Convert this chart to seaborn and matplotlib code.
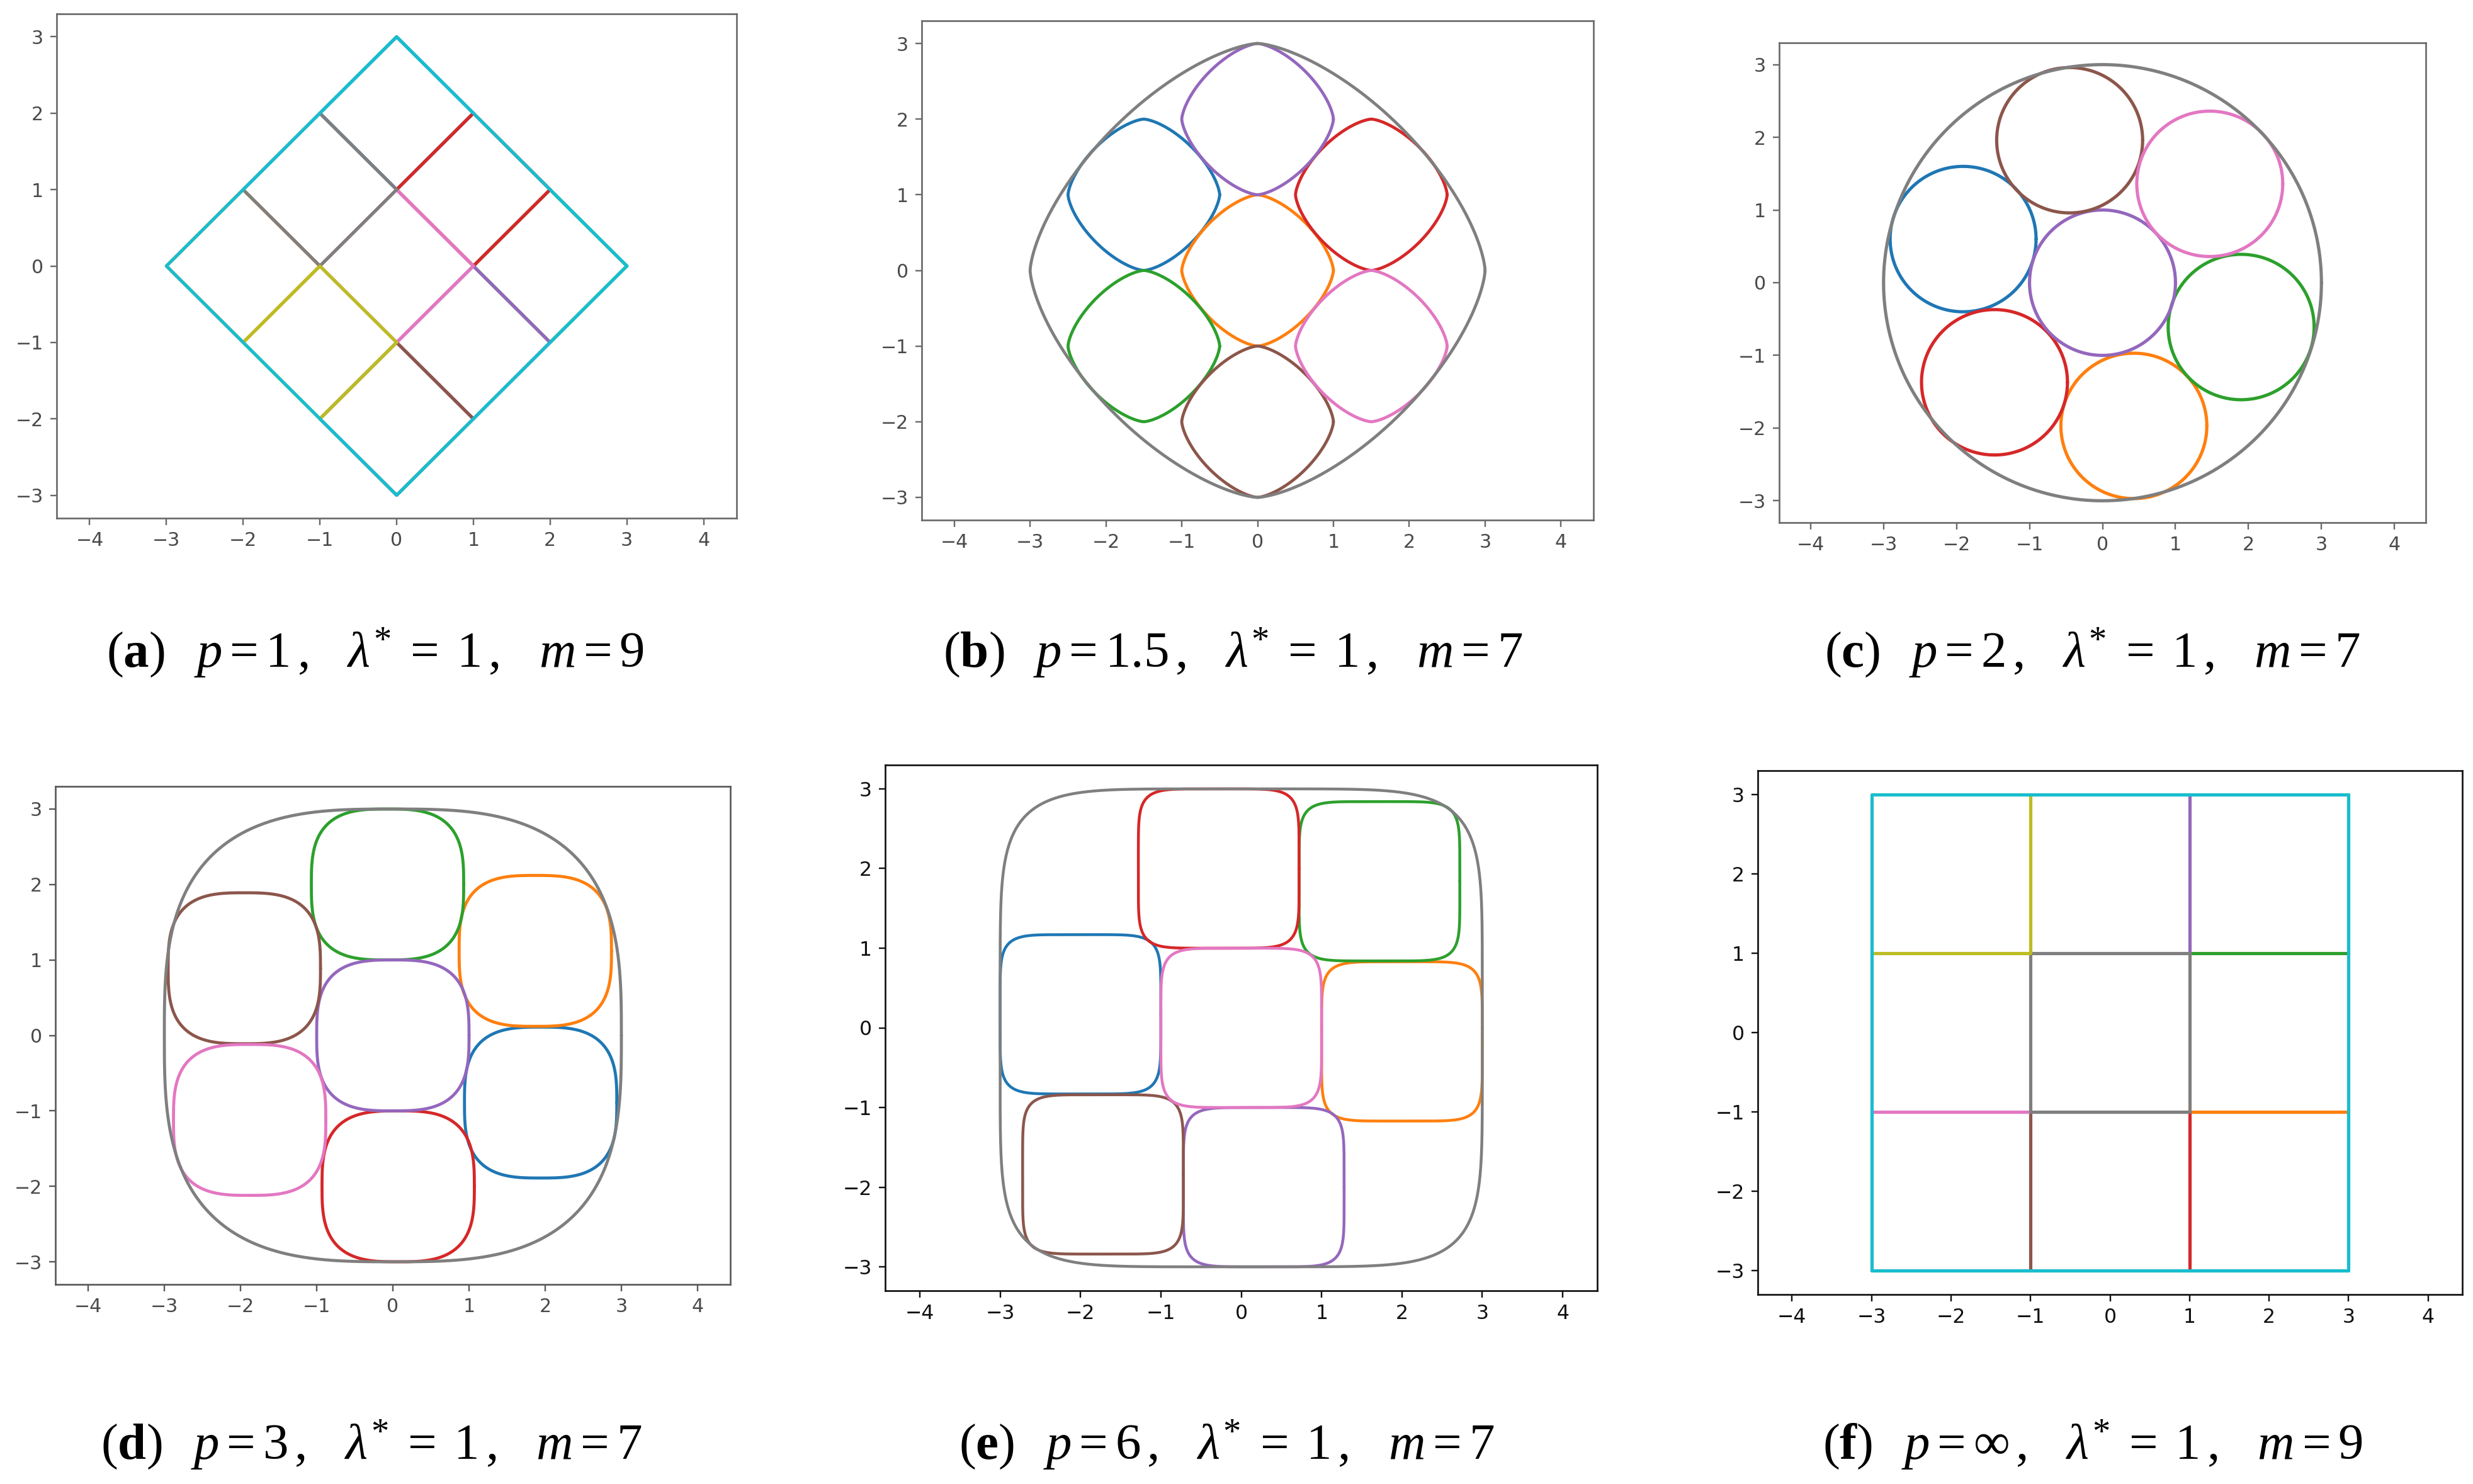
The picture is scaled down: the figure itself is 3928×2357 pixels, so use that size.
import numpy as np
import matplotlib
matplotlib.use("Agg")
import matplotlib.pyplot as plt
import seaborn as sns

# ---------------- data ----------------
panel_letters = ["a", "b", "c", "d", "e", "f"]
p_values = [1.0, 1.5, 2.0, 3.0, 6.0, np.inf]
p_texts = ["1", "1.5", "2", "3", "6", r"\infty"]
m_values = [9, 7, 7, 7, 7, 9]
lambda_star = 1
inner_radius = 1.0
outer_radius = 3.0

# centres of the small balls, in drawing (colour-cycle) order
centers_x_a = [0, -2, 2, 1, 1, 0, 0, -1, -1]
centers_y_a = [2, 0, 0, 1, -1, -2, 0, 1, -1]
centers_x_b = [-1.5, 0, -1.5, 1.5, 0, 0, 1.5]
centers_y_b = [1.0, 0, -1.0, 1.0, 2.0, -2.0, -1.0]
centers_x_c = [-1.91, 0.43, 1.90, -1.48, 0.0, -0.45, 1.47]
centers_y_c = [0.60, -1.97, -0.61, -1.37, 0.0, 1.96, 1.36]
centers_x_d = [1.94, 1.87, -0.07, 0.07, 0.0, -1.95, -1.88]
centers_y_d = [-0.89, 1.12, 2.00, -2.00, 0.0, 0.89, -1.12]
centers_x_e = [-2.00, 2.00, 1.72, -0.28, 0.28, -1.72, 0.0]
centers_y_e = [0.17, -0.17, 1.84, 2.00, -2.00, -1.84, 0.0]
centers_x_f = [2, 2, 2, 0, 0, -2, -2, 0, -2]
centers_y_f = [-2, 0, 2, -2, 2, -2, 0, 0, 2]

centers_x = [centers_x_a, centers_x_b, centers_x_c, centers_x_d, centers_x_e, centers_x_f]
centers_y = [centers_y_a, centers_y_b, centers_y_c, centers_y_d, centers_y_e, centers_y_f]

x_ticks = [-4, -3, -2, -1, 0, 1, 2, 3, 4]
y_ticks = [-3, -2, -1, 0, 1, 2, 3]

# ---------------- layout (pixels in the 3928x2357 canvas) ----------------
W, H = 3928, 2357
axes_px = [  # left, right, top, bottom
    (90, 1170, 22, 823),
    (1464, 2531, 33, 826),
    (2826, 3853, 68, 830),
    (88, 1160, 1249, 2040),
    (1406, 2537, 1215, 2050),
    (2792, 3911, 1224, 2056),
]
caption_px = [(596, 1060), (1958, 1060), (3323, 1060),
              (590, 2318), (1948, 2318), (3324, 2318)]
frame_colors = ["#6a6a6a", "#6a6a6a", "#6a6a6a", "#5a5a5a", "#111111", "#111111"]
label_colors = ["#4a4a4a", "#4a4a4a", "#4a4a4a", "#4a4a4a", "#111111", "#111111"]
tick_sizes = [10, 10, 10, 10, 10.5, 10.5]
line_widths = [1.7, 1.6, 1.7, 1.6, 1.5, 1.7]

sns.set_style("ticks")
plt.rcParams["font.family"] = ["DejaVu Sans"]
plt.rcParams["mathtext.fontset"] = "custom"
plt.rcParams["mathtext.rm"] = "Liberation Serif"
plt.rcParams["mathtext.it"] = "Liberation Serif:italic"
plt.rcParams["mathtext.bf"] = "Liberation Serif:bold"

palette = sns.color_palette("tab10", 10)

dpi = 216
fig = plt.figure(figsize=(W / dpi, H / dpi), dpi=dpi)
fig.patch.set_facecolor("white")


def lp_curve(cx, cy, r, p, n=2400):
    if np.isinf(p):
        xs = np.array([1, -1, -1, 1, 1], dtype=float)
        ys = np.array([1, 1, -1, -1, 1], dtype=float)
    else:
        t = np.linspace(0, 2 * np.pi, n)
        e = 2.0 / p
        xs = np.sign(np.cos(t)) * np.abs(np.cos(t)) ** e
        ys = np.sign(np.sin(t)) * np.abs(np.sin(t)) ** e
    return cx + r * xs, cy + r * ys


for i in range(6):
    l, r, t, b = axes_px[i]
    ax = fig.add_axes([l / W, 1 - b / H, (r - l) / W, (b - t) / H])
    p = p_values[i]
    for k in range(m_values[i]):
        xs, ys = lp_curve(centers_x[i][k], centers_y[i][k], inner_radius, p)
        sns.lineplot(x=xs, y=ys, sort=False, estimator=None, color=palette[k],
                     linewidth=line_widths[i], ax=ax)
    xs, ys = lp_curve(0.0, 0.0, outer_radius, p)
    sns.lineplot(x=xs, y=ys, sort=False, estimator=None,
                 color=palette[m_values[i] % 10], linewidth=line_widths[i], ax=ax)

    ax.set_xlim(-4.43, 4.43)
    ax.set_ylim(-3.3, 3.3)
    ax.set_xticks(x_ticks)
    ax.set_yticks(y_ticks)
    ax.set_xticklabels([f"{v:d}".replace("-", "\u2212") for v in x_ticks])
    ax.set_yticklabels([f"{v:d}".replace("-", "\u2212") for v in y_ticks])
    ax.set_xlabel("")
    ax.set_ylabel("")
    for s in ax.spines.values():
        s.set_visible(True)
        s.set_color(frame_colors[i])
        s.set_linewidth(0.9)
    ax.tick_params(direction="out", length=3.5, width=0.8, pad=3.5,
                   colors=frame_colors[i], labelcolor=label_colors[i],
                   labelsize=tick_sizes[i])
    ax.grid(False)

    cx, cy = caption_px[i]
    caption = (r"$(\mathbf{" + panel_letters[i] + r"})\;\;\; "
               r"p=" + p_texts[i] + r"\,,\;\;\; "
               r"\lambda^{*}\;=\;" + str(lambda_star) + r"\,,\;\;\; "
               r"m=" + str(m_values[i]) + r"$")
    fig.text(cx / W, 1 - cy / H, caption, ha="center", va="baseline",
             fontsize=27, family=["Liberation Serif", "DejaVu Serif"], color="black")

fig.savefig("out.png", dpi=dpi, facecolor="white")
